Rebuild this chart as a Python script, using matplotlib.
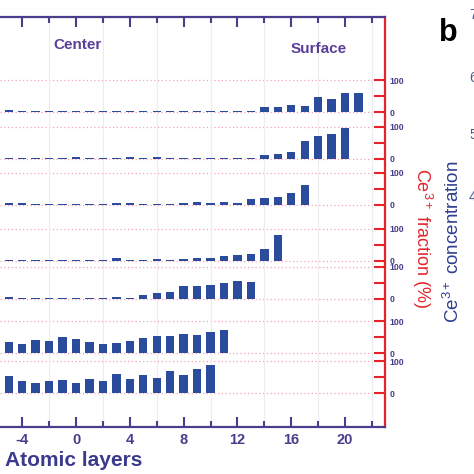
import matplotlib
matplotlib.use("Agg")
import matplotlib.pyplot as plt
from matplotlib.ticker import MultipleLocator, FixedLocator
import numpy as np

plt.rcParams['font.family'] = ['Liberation Sans', 'DejaVu Sans']
plt.rcParams['mathtext.fontset'] = 'custom'
plt.rcParams['mathtext.rm'] = 'Liberation Sans'
plt.rcParams['mathtext.it'] = 'Liberation Sans:italic'
plt.rcParams['mathtext.bf'] = 'Liberation Sans:bold'

# Ce3+ fraction (%) per atomic layer, one list per row (top to bottom), all rows start at layer -5
row1 = [7, 4, 3, 2, 2, 4, 3, 4, 2, 3, 3, 4, 4, 3, 4, 4, 3, 2, 2, 15, 16, 22, 19, 46, 42, 59, 59]
row2 = [3, 3, 4, 3, 3, 5, 3, 3, 4, 6, 3, 6, 4, 4, 3, 3, 3, 2, 4, 12, 14, 20, 56, 71, 77, 96]
row3 = [5, 5, 3, 3, 3, 4, 3, 3, 6, 5, 4, 4, 3, 5, 8, 7, 10, 6, 17, 21, 24, 38, 62]
row4 = [4, 2, 2, 2, 2, 3, 3, 3, 9, 2, 2, 7, 3, 5, 10, 8, 15, 17, 21, 37, 80]
row5 = [6, 2, 4, 2, 2, 2, 2, 3, 7, 2, 12, 19, 22, 40, 40, 45, 50, 57, 53]
row6 = [34, 29, 40, 39, 51, 44, 34, 29, 31, 38, 48, 52, 52, 59, 55, 65, 71]
row7 = [54, 38, 31, 38, 42, 33, 45, 39, 60, 43, 55, 46, 70, 56, 76, 89]
rows = [row1, row2, row3, row4, row5, row6, row7]
first_layer = -5

# vertical offset of each row's zero line (in % units of the shared axis)
offsets = [984, 838, 694, 519, 400, 231, 106]

purple = '#4b3c8c'
red = '#e3242b'
bar_blue = '#2b4b9d'

fig = plt.figure(figsize=(4.74, 4.74), dpi=100)
W = H = 474.0
ax = fig.add_axes([0, 1 - 427 / H, 385 / W, 410 / H])

for vals, off in zip(rows, offsets):
    layers = np.arange(first_layer, first_layer + len(vals))
    ax.bar(layers, vals, bottom=off, width=0.62, color=bar_blue, zorder=3)
    ax.axhline(off, color='#f2a6b8', lw=0.9, ls=(0, (1, 2)), zorder=1)
    ax.axhline(off + 100, color='#f2a6b8', lw=0.9, ls=(0, (1, 2)), zorder=1)

ax.set_xlim(-5.65, 22.97)
ax.set_ylim(0, 1281)

# x axis
ax.xaxis.set_major_locator(MultipleLocator(4))
ax.xaxis.set_minor_locator(MultipleLocator(2))
ax.tick_params(axis='x', which='major', direction='in', length=7, width=1.5,
               color=purple, top=True, labelsize=10.5, labelcolor=purple, pad=4)
ax.tick_params(axis='x', which='minor', direction='in', length=4, width=1.5,
               color=purple, top=True)
ax.set_xticklabels([str(int(t)) for t in ax.get_xticks()], fontweight='bold')
ax.grid(which='minor', axis='x', color='#ececf2', lw=0.8, zorder=0)

# right axis with ticks for every row
yt = []
yl = []
for off in offsets:
    yt += [off, off + 50, off + 100]
    yl += ['0', '', '100']
ax.yaxis.tick_right()
ax.yaxis.set_major_locator(FixedLocator(yt))
ax.set_yticklabels(yl, fontweight='bold')
ax.tick_params(axis='y', which='major', direction='in', length=8, width=1.5,
               color=red, labelsize=6.3, labelcolor=purple, pad=3, left=False)

ax.spines['left'].set_visible(False)
for s in ['top', 'bottom']:
    ax.spines[s].set_color(purple)
    ax.spines[s].set_linewidth(1.6)
ax.spines['right'].set_color(red)
ax.spines['right'].set_linewidth(1.6)


def ftxt(x, y, s, **kw):
    fig.text(x / W, 1 - y / H, s, **kw)


ftxt(77, 45, 'Center', ha='center', va='center', fontsize=11,
     fontweight='bold', color='#5a3f98')
ftxt(319, 49, 'Surface', ha='center', va='center', fontsize=11,
     fontweight='bold', color='#5a3f98')
ftxt(5, 461, 'Atomic layers', ha='left', va='center', fontsize=15,
     fontweight='bold', color='#3b3a8c')
ftxt(422, 238, 'Ce$^{3+}$ fraction (%)', ha='center', va='center', fontsize=13,
     rotation=-90, color=red)
ftxt(453, 242, 'Ce$^{3+}$ concentration', ha='center', va='center', fontsize=13.5,
     rotation=90, color='#2e3d8f')
ftxt(448, 33, 'b', ha='center', va='center', fontsize=22, fontweight='bold',
     color='black')

# clipped tick labels of the neighbouring panel
for lab, yy in zip(['7', '6', '5', '4'], [15, 78, 135, 197]):
    ftxt(469, yy, lab, ha='left', va='center', fontsize=10, color='#4a5a8a')

fig.savefig('out.png', dpi=100)
